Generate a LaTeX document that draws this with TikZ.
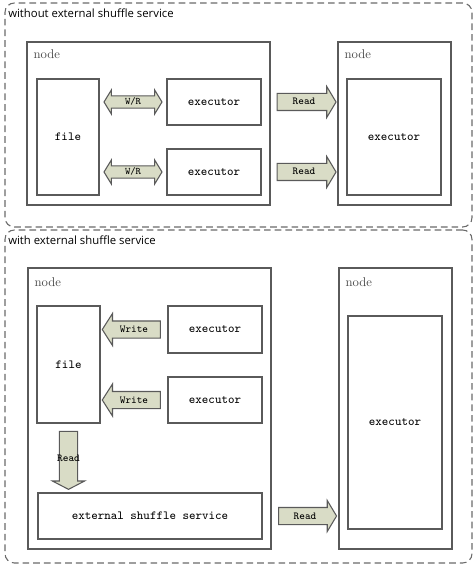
\documentclass[tikz,border=0pt]{standalone}
\usepackage{fontspec}
\setsansfont{Open Sans}
\usepackage{tikz}
\usetikzlibrary{shapes.arrows,calc,positioning}
\definecolor{ink}{HTML}{5A5A5A}
\definecolor{frameink}{HTML}{6A6A6A}
\definecolor{olive}{HTML}{D9DCC6}
\definecolor{muted}{HTML}{4A4A4A}
\newcommand{\pxu}{0.75pt}
\tikzset{
  box/.style={draw=ink,line width=0.9pt,fill=white,inner sep=0pt,
    font=\ttfamily\fontsize{9.3}{11}\selectfont},
  lane/.style={draw=frameink,line width=0.8pt,dash pattern=on 5pt off 3pt,
    rounded corners=7pt,inner sep=0pt},
  lanelabel/.style={font=\sffamily\fontsize{8.5}{10}\selectfont,anchor=west,inner sep=0pt},
  note/.style={font=\rmfamily\fontsize{9.5}{11}\selectfont,text=muted,anchor=west,inner sep=0pt},
  flow/.style={single arrow,draw=ink,fill=olive,line width=0.8pt,
    font=\ttfamily\fontsize{8}{9}\selectfont,text height=5.5pt,text depth=1pt,
    inner ysep=2.75pt,inner xsep=0pt,single arrow head extend=5.25pt,
    single arrow tip angle=118},
  bflow/.style={double arrow,draw=ink,fill=olive,line width=0.8pt,
    font=\ttfamily\fontsize{7.5}{9}\selectfont,text height=5pt,text depth=0.5pt,
    inner ysep=1.4pt,inner xsep=0pt,double arrow head extend=4.5pt,
    double arrow tip angle=117},
}
\begin{document}
\begin{tikzpicture}[x=0.75pt,y=-0.75pt]
  \useasboundingbox (0,0) rectangle (474,566);
  % without external shuffle service
  \node[lane,minimum width=467*\pxu,minimum height=224*\pxu] (laneA) at (238.5,115) {};
  \node[lanelabel] (titleA) at (8,13) {without external shuffle service};
  \node[box,minimum width=243*\pxu,minimum height=163*\pxu] (hostA) at (148.5,123.5) {};
  \node[note] at ($(hostA.north west)+(7,13)$) {node};
  \node[box,minimum width=62*\pxu,minimum height=116*\pxu] (fileA) at (68,137) {file};
  \node[box,minimum width=94*\pxu,minimum height=46*\pxu] (exA1) at (214,102) {executor};
  \node[box,minimum width=94*\pxu,minimum height=46*\pxu] (exA2) at (214,172) {executor};
  \node[box,minimum width=113*\pxu,minimum height=163*\pxu] (hostB) at (394.5,123.5) {};
  \node[note] at ($(hostB.north west)+(7,13)$) {node};
  \node[box,minimum width=94*\pxu,minimum height=116*\pxu] (exB) at (394,137) {executor};
  \foreach \e in {exA1,exA2}{
    \node[bflow,minimum height=58*\pxu] at ($(fileA.east |- \e.west)!0.5!(\e.west)$) {W/R};
    \node[flow,minimum height=59*\pxu] at ($(hostA.east |- \e.east)!0.5!(hostB.west |- \e.east)$) {Read};
  }
  % with external shuffle service
  \node[lane,minimum width=467*\pxu,minimum height=333*\pxu] (laneB) at (238.5,396.5) {};
  \node[lanelabel] (titleB) at (8,240) {with external shuffle service};
  \node[box,minimum width=243*\pxu,minimum height=281*\pxu] (hostC) at (149.5,408.5) {};
  \node[note] at ($(hostC.north west)+(7,15)$) {node};
  \node[box,minimum width=63*\pxu,minimum height=117*\pxu] (fileC) at (68.5,364.5) {file};
  \node[box,minimum width=94*\pxu,minimum height=47*\pxu] (exC1) at (215,329.5) {executor};
  \node[box,minimum width=94*\pxu,minimum height=46*\pxu] (exC2) at (215,400) {executor};
  \node[box,minimum width=224*\pxu,minimum height=46*\pxu] (essC) at (150,516) {external shuffle service};
  \node[box,minimum width=113*\pxu,minimum height=281*\pxu] (hostD) at (395.5,408.5) {};
  \node[note] at ($(hostD.north west)+(7,15)$) {node};
  \node[box,minimum width=94*\pxu,minimum height=213*\pxu] (exD) at (395,422.5) {executor};
  \foreach \e in {exC1,exC2}{
    \node[flow,shape border rotate=180,minimum height=58*\pxu,single arrow tip angle=115,
      single arrow head extend=5.6pt] at ($(fileC.east |- \e.west)!0.5!(\e.west)$) {Write};
  }
  \node[flow,rotate=-90,minimum height=58*\pxu,text height=0pt,text depth=0pt,
    inner ysep=6.4pt,single arrow tip angle=125] (rdC)
    at ($(fileC.south)!0.5!(fileC.south |- essC.north)$) {};
  \node[font=\ttfamily\fontsize{8}{9}\selectfont,inner sep=0pt] at (rdC.center) {Read};
  \node[flow,minimum height=58*\pxu] at ($(hostC.east |- essC.east)!0.5!(hostD.west |- essC.east)$) {Read};
\end{tikzpicture}
\end{document}
